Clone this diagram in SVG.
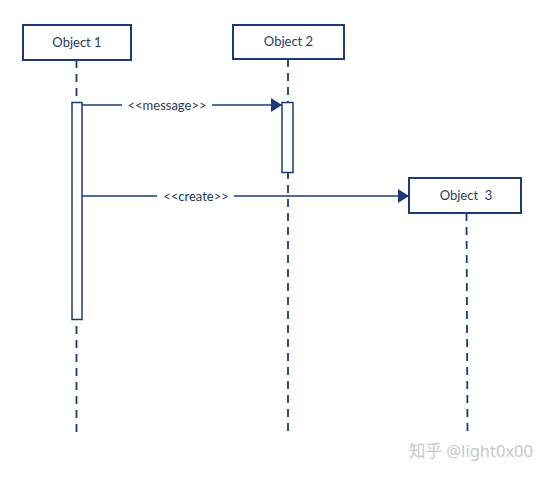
<svg xmlns="http://www.w3.org/2000/svg" width="546" height="477" viewBox="0 0 546 477">
<style>
.box{fill:#fff;stroke:#1c3a78;stroke-width:2}
.act{fill:#fff;stroke:#1c3a78;stroke-width:1.5}
.life{stroke:#1c3a78;stroke-width:1.8;stroke-dasharray:8 6;fill:none}
.msg{stroke:#1c3a78;stroke-width:1.5;fill:none}
.lbl{font-family:Lato,"Open Sans","Liberation Sans",sans-serif;font-size:13px;fill:#2a3a5a;text-anchor:middle}
.wm{font-family:"Noto Sans","Noto Sans CJK SC",sans-serif;font-size:16.5px;fill:#c8c8c8}
</style>
<defs>
<marker id="arr" viewBox="0 0 11 14" refX="11" refY="7" markerWidth="11" markerHeight="14" markerUnits="userSpaceOnUse" orient="auto">
<path d="M0,0 L11,7 L0,14 Z" fill="#1c3a78"/>
</marker>
</defs>
<rect width="546" height="477" fill="#fff"/>
<g id="lifelines">
<line class="life" x1="76.5" y1="60" x2="76.5" y2="436"/>
<line class="life" x1="288" y1="59" x2="288" y2="434"/>
<line class="life" x1="466.5" y1="213" x2="467.5" y2="434"/>
</g>
<g id="object1">
<rect class="box" x="23" y="25" width="108" height="35"/>
<text class="lbl" x="77" y="47">Object 1</text>
<rect class="act" x="72" y="102.5" width="10" height="217"/>
</g>
<g id="object2">
<rect class="box" x="233" y="25" width="111" height="34"/>
<text class="lbl" x="288.5" y="46">Object 2</text>
<rect class="act" x="282" y="102.5" width="11" height="70"/>
</g>
<g id="object3">
<rect class="box" x="409" y="178" width="112" height="35" stroke-width="2.5"/>
<text class="lbl" x="466" y="200" xml:space="preserve">Object  3</text>
</g>
<g id="connectors">
<line class="msg" x1="82" y1="105" x2="122" y2="105"/>
<line class="msg" x1="212" y1="105" x2="282" y2="105" marker-end="url(#arr)"/>
<text class="lbl" x="167" y="110" font-size="12">&lt;&lt;message&gt;&gt;</text>
<line class="msg" x1="82" y1="196" x2="157" y2="196"/>
<line class="msg" x1="234" y1="196" x2="409" y2="196" marker-end="url(#arr)"/>
<text class="lbl" x="196" y="201" font-size="12">&lt;&lt;create&gt;&gt;</text>
</g>
<text class="wm" x="409" y="457">知乎 @light0x00</text>
</svg>
